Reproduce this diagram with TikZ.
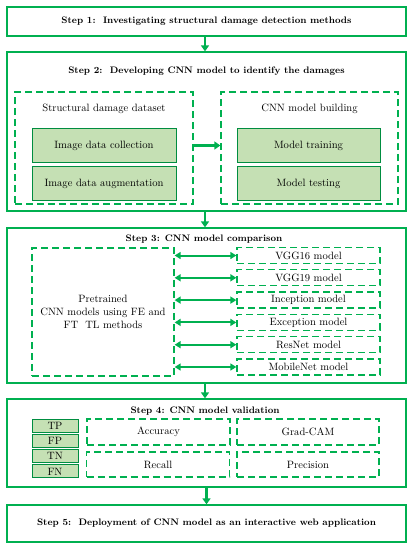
\documentclass[tikz,border=0pt]{standalone}
\usepackage{tikz}
\usetikzlibrary{positioning,calc,arrows.meta}
\definecolor{stepgreen}{RGB}{0,176,80}
\definecolor{boxgreen}{RGB}{197,224,180}
\tikzset{stepbox/.style={draw=stepgreen, line width=1.3pt, minimum width=399pt, inner sep=0pt, font=\fontsize{9.4}{11}\selectfont\bfseries}}
\tikzset{dashbox/.style={draw=stepgreen, line width=1.3pt, dash pattern=on 7pt off 4pt, inner sep=0pt, align=center, font=\fontsize{10.6}{13}\selectfont}}
\tikzset{fillbox/.style={draw=stepgreen!80!black, line width=0.9pt, fill=boxgreen, inner sep=0pt, font=\fontsize{10.6}{12}\selectfont}}
\tikzset{steptitle/.style={inner sep=1pt, font=\fontsize{9.4}{11}\selectfont\bfseries}}
\tikzset{arr/.style={draw=stepgreen, line width=2.4pt, -{Triangle[width=8pt,length=6pt]}}}
\tikzset{darr/.style={draw=stepgreen, line width=2pt, {Triangle[width=7pt,length=6pt]}-{Triangle[width=7pt,length=6pt]}}}

\begin{document}
\begin{tikzpicture}[x=1pt, y=-1pt]
    \useasboundingbox (0,0) rectangle (412,550);
    % step 1
    \node[stepbox, minimum height=29pt] (step1) at (206.5,21.5) {Step 1:\ \ Investigating structural damage detection methods};
    % step 2
    \node[stepbox, minimum height=159pt] (step2) at (206.5,131.5) {};
    \node[steptitle] (title2) at (206.5,71) {Step 2:\ \ Developing CNN model to identify the damages};
    \node[dashbox, minimum width=178pt, minimum height=112pt] (dataset) at (104,148) {};
    \node[dashbox, minimum width=177pt, minimum height=112pt] (building) at (309.5,148) {};
    \node[inner sep=1pt, font=\fontsize{10.6}{12}\selectfont] at (104,109) {Structural damage dataset};
    \node[inner sep=1pt, font=\fontsize{10.6}{12}\selectfont] at (309.5,109) {CNN model building};
    \node[fillbox, minimum width=144pt, minimum height=34pt] (collect) at (104,145.5) {Image data collection};
    \node[fillbox, minimum width=144pt, minimum height=34pt] (augment) at (104,183.5) {Image data augmentation};
    \node[fillbox, minimum width=143pt, minimum height=34pt] (train) at (308.5,145.5) {Model training};
    \node[fillbox, minimum width=143pt, minimum height=34pt] (test) at (308.5,183.5) {Model testing};
    \draw[arr] (dataset.east |- collect) -- (building.west |- collect);
    % step 3
    \node[stepbox, minimum height=155pt] (step3) at (206.5,305.5) {};
    \node[steptitle] (title3) at (204,239) {Step 3: CNN model comparison};
    \node[dashbox, minimum width=142pt, minimum height=128pt] (pretrained) at (103,312) {Pretrained\\CNN models using FE and\\FT\ \ TL methods};
    \foreach \name [count=\i from 0] in {VGG16, VGG19, Inception, Exception, ResNet, MobileNet} {
        \node[dashbox, minimum width=143pt, minimum height=16pt] (m\i) at (308.5,255.5+22.3*\i) {\name\ model};
        \draw[darr] (pretrained.east |- m\i) -- (m\i.west);
    }
    % step 4
    \node[stepbox, minimum height=88pt] (step4) at (206.5,443) {};
    \node[steptitle] (title4) at (205,411) {Step 4: CNN model validation};
    \foreach \name [count=\i from 0] in {TP, FP, TN, FN} {
        \node[fillbox, minimum width=46pt, minimum height=13pt] (c\i) at (55,425.5+15.3*\i) {\name};
    }
    \node[dashbox, minimum width=143pt, minimum height=26pt] (accuracy) at (158.5,432) {Accuracy};
    \node[dashbox, minimum width=142pt, minimum height=26pt] (gradcam) at (308,432) {Grad-CAM};
    \node[dashbox, minimum width=143pt, minimum height=25pt] (recall) at (158,464.5) {Recall};
    \node[dashbox, minimum width=142pt, minimum height=25pt] (precision) at (308,464.5) {Precision};
    % step 5
    \node[stepbox, minimum height=37pt] (step5) at (206.5,523.5) {Step 5:\ \ Deployment of CNN model as an interactive web application};
    % arrows between steps
    \draw[arr] ([xshift=-1.5pt]step1.south) -- ([xshift=-1.5pt]step2.north);
    \draw[arr] ([xshift=-1.5pt]step2.south) -- ([xshift=-1.5pt]step3.north);
    \draw[arr] ([xshift=-1.5pt]step3.south) -- ([xshift=-1.5pt]step4.north);
    \draw[arr] (step4.south) -- (step5.north);
\end{tikzpicture}
\end{document}
